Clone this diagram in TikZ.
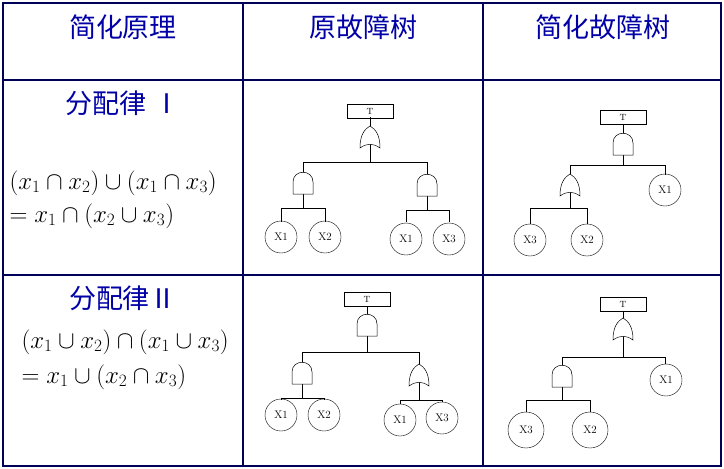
\documentclass[tikz,border=0pt]{standalone}
\usepackage{fontspec}
\newfontfamily\cjk{Noto Sans CJK SC}
\begin{document}
\begin{tikzpicture}[x=1pt,y=-1pt,
  grid/.style={draw=blue!35!black,line width=1.2pt},
  hd/.style={text=blue!65!black,font=\cjk\fontsize{27}{30}\selectfont},
  fm/.style={anchor=west,font=\fontsize{23}{26}\selectfont},
  ev/.style={circle,draw,minimum size=32pt,inner sep=0pt,font=\fontsize{11}{12}\selectfont},
  tb/.style={draw,minimum width=46pt,minimum height=14pt,inner sep=0pt,font=\small},
  ln/.style={line width=0.5pt}]
\useasboundingbox (0,0) rectangle (724,469);
\draw[grid] (3,3) rectangle (721,466);
\draw[grid] (243,3) -- (243,466) (483,3) -- (483,466)
  (3,80) -- (721,80) (3,275) -- (721,275);
\node[hd] (h1) at (123,27) {简化原理};
\node[hd] (h2) at (363,27) {原故障树};
\node[hd] (h3) at (603,27) {简化故障树};
\node[hd] (r1) at (123,103) {分配律 Ⅰ};
\node[hd] (r2) at (123,298) {分配律Ⅱ};
\node[fm] (f1) at (6,183) {$(x_1\cap x_2)\cup(x_1\cap x_3)$};
\node[fm] (f2) at (6,216) {$=x_1\cap(x_2\cup x_3)$};
\node[fm] (f3) at (18,342) {$(x_1\cup x_2)\cap(x_1\cup x_3)$};
\node[fm] (f4) at (18,377) {$=x_1\cup(x_2\cap x_3)$};
\def\andg#1#2{\draw[ln,fill=white] ({#1-10},{#2+22}) -- ({#1-10},{#2+10}) .. controls ({#1-10},{#2-3}) and ({#1+10},{#2-3}) .. ({#1+10},{#2+10}) -- ({#1+10},{#2+22}) -- cycle;}
\def\org#1#2{\draw[ln,fill=white] ({#1-10},{#2+22}) .. controls ({#1-10},{#2+8}) and ({#1-5},{#2+3}) .. ({#1},{#2}) .. controls ({#1+5},{#2+3}) and ({#1+10},{#2+8}) .. ({#1+10},{#2+22}) .. controls ({#1+3},{#2+17}) and ({#1-3},{#2+17}) .. cycle;}
% tree 1
\draw[ln] (370,117)--(370,162) (303,162)--(427,162) (303,162)--(303,208) (427,162)--(427,210)
 (281,208)--(325,208) (281,208)--(281,222) (325,208)--(325,222)
 (406,210)--(449,210) (406,210)--(406,222) (449,210)--(449,222);
\node[tb] (t1) at (370,111) {T};
\org{370}{126}\andg{303}{172}\andg{427}{174}
\node[ev] (a1) at (281,237) {X1};\node[ev] (a2) at (325,237) {X2};
\node[ev] (a3) at (406,239) {X1};\node[ev] (a4) at (449,239) {X3};
% tree 2
\draw[ln] (623,124)--(623,165) (570,165)--(665,165) (570,165)--(570,208) (665,165)--(665,175)
 (530,208)--(587,208) (530,208)--(530,224) (587,208)--(587,224);
\node[tb] (t2) at (623,117) {T};
\andg{623}{133}\org{570}{174}
\node[ev] (b1) at (665,190) {X1};
\node[ev] (b2) at (530,240) {X3};\node[ev] (b3) at (587,240) {X2};
% tree 3
\draw[ln] (367,306)--(367,352) (302,352)--(419,352) (302,352)--(302,398) (419,352)--(419,400)
 (281,398)--(324,398) (281,398)--(281,400) (324,398)--(324,400)
 (400,400)--(442,400) (400,400)--(400,404) (442,400)--(442,402);
\node[tb] (t3) at (367,299) {T};
\andg{367}{314}\andg{302}{362}\org{419}{364}
\node[ev] (c1) at (281,415) {X1};\node[ev] (c2) at (324,415) {X2};
\node[ev] (c3) at (400,420) {X1};\node[ev] (c4) at (442,418) {X3};
% tree 4
\draw[ln] (623,311)--(623,357) (562,357)--(665,357) (562,357)--(562,400) (665,357)--(665,364)
 (526,400)--(590,400) (526,400)--(526,412) (590,400)--(590,412);
\node[tb] (t4) at (623,304) {T};
\org{623}{318}\andg{562}{365}
\node[ev] (d1) at (666,380) {X1};
\node[ev,minimum size=36pt] (d2) at (526,430) {X3};\node[ev,minimum size=36pt] (d3) at (590,430) {X2};
\end{tikzpicture}
\end{document}
